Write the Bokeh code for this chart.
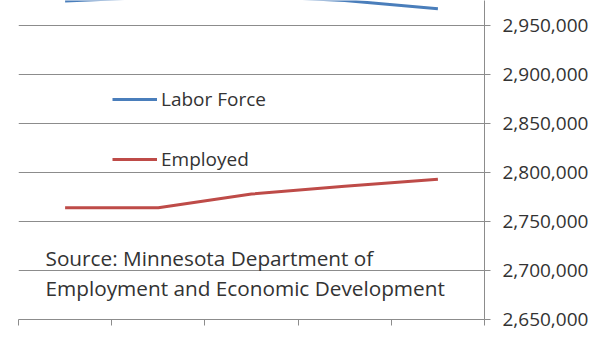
from bokeh.plotting import figure
from bokeh.models import Range1d, LinearAxis, NumeralTickFormatter, FixedTicker, Legend, LegendItem, Label
from bokeh.embed import file_html
from bokeh.resources import INLINE

periods = ["P1", "P2", "P3", "P4", "P5"]
labor_force = [2975000, 2979000, 2980000, 2975500, 2967000]
employed = [2764000, 2764000, 2778000, 2786000, 2793000]
y_ticks = [2650000, 2700000, 2750000, 2800000, 2850000, 2900000, 2950000]
source_lines = ["Source: Minnesota Department of", "Employment and Economic Development"]

xs = [i + 0.5 for i in range(len(periods))]

FONT = "Open Sans"
TEXT = "#333333"
GRID = "#8c8c8c"

p = figure(width=600, height=337, output_backend="svg", toolbar_location=None,
           x_range=Range1d(0, len(periods)), y_range=Range1d(2650000, 2975500),
           y_axis_location=None, x_axis_location=None,
           min_border_left=18, min_border_right=116, min_border_top=0, min_border_bottom=18)
p.outline_line_color = None
p.background_fill_color = "white"
p.border_fill_color = "white"

yaxis = LinearAxis(ticker=FixedTicker(ticks=y_ticks), formatter=NumeralTickFormatter(format="0,0"))
yaxis.axis_line_color = GRID
yaxis.major_tick_line_color = GRID
yaxis.major_tick_out = 6
yaxis.major_tick_in = 0
yaxis.minor_tick_line_color = None
yaxis.major_label_standoff = 12
yaxis.major_label_text_font = FONT
yaxis.major_label_text_font_size = "19px"
yaxis.major_label_text_color = TEXT
p.add_layout(yaxis, "right")

x_edges = list(range(len(periods) + 1))
xaxis = LinearAxis(ticker=FixedTicker(ticks=x_edges),
                   major_label_overrides={e: "" for e in x_edges})
xaxis.axis_line_color = GRID
xaxis.major_tick_line_color = GRID
xaxis.major_tick_out = 6
xaxis.major_tick_in = 0
xaxis.minor_tick_line_color = None
xaxis.major_label_standoff = 0
p.add_layout(xaxis, "below")

p.xgrid.grid_line_color = None
p.ygrid.ticker = FixedTicker(ticks=y_ticks)
p.ygrid.grid_line_color = GRID
p.ygrid.grid_line_width = 1

r1 = p.line(xs, labor_force, line_color="#4A7EBB", line_width=3)
r2 = p.line(xs, employed, line_color="#BE4B48", line_width=3)

legend = Legend(items=[LegendItem(label="Labor Force", renderers=[r1]),
                       LegendItem(label="Employed", renderers=[r2])],
                location=(94, 147), orientation="vertical",
                padding=0, margin=0, spacing=34, glyph_width=45, glyph_height=20,
                label_standoff=4, label_text_font=FONT, label_text_font_size="19px",
                label_text_color=TEXT, background_fill_alpha=0, border_line_color=None)
p.add_layout(legend, "center")

for i, line in enumerate(source_lines):
    p.add_layout(Label(x=27, y=62 - i * 30, x_units="screen", y_units="screen", text=line,
                       text_font=FONT, text_font_size="20.75px", text_color=TEXT,
                       text_baseline="middle"))

open("out.html", "w").write(file_html(p, INLINE))
